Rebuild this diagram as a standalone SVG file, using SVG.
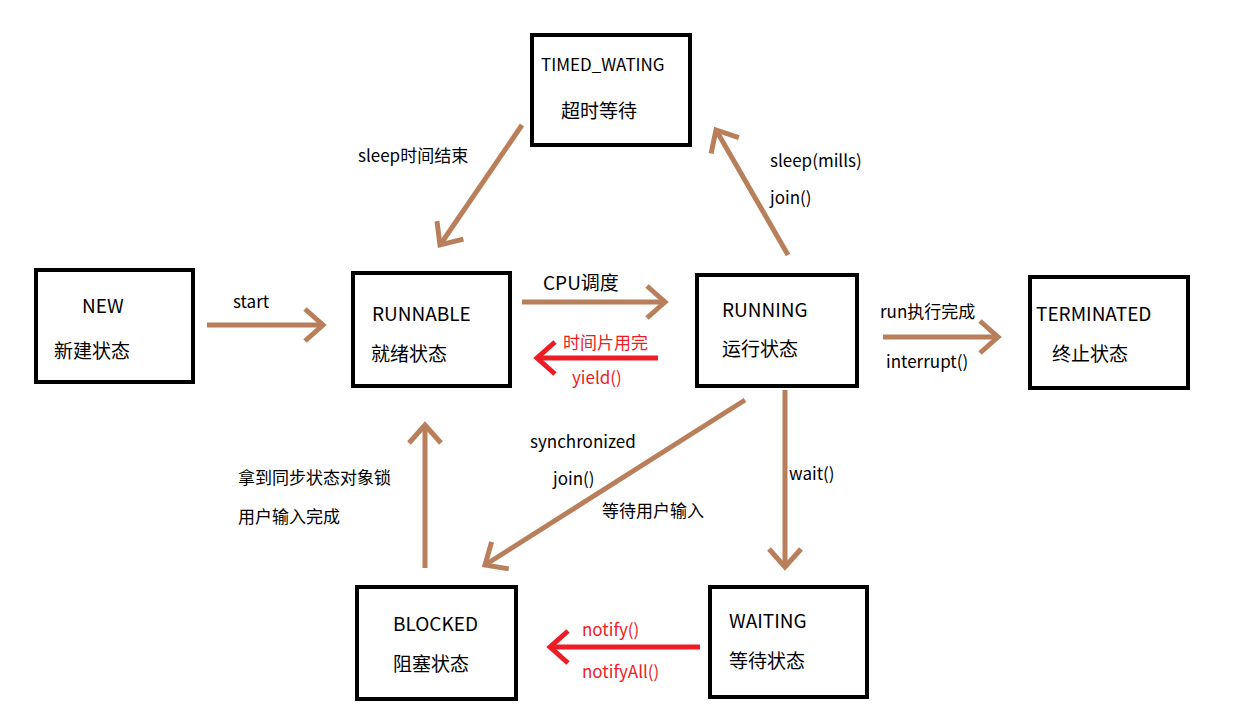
<svg xmlns="http://www.w3.org/2000/svg" width="1247" height="725" viewBox="0 0 1247 725">
<style>
.box{fill:#fff;stroke:#000;stroke-width:4}
text{font-family:"Microsoft YaHei","Noto Sans CJK SC",sans-serif;font-size:19px;fill:#000}
.s{font-size:17px}
.r{fill:#ee1c24}
.b{stroke:#b97f5b;stroke-width:5;fill:none}
.rd{stroke:#ee1c24;stroke-width:5;fill:none}
</style>
<defs>
<marker id="hb" markerUnits="userSpaceOnUse" markerWidth="40" markerHeight="40" refX="22" refY="20" orient="auto"><path d="M4 4 L22 20 L4 36" fill="none" stroke="#b97f5b" stroke-width="5"/></marker>
<marker id="hr" markerUnits="userSpaceOnUse" markerWidth="40" markerHeight="40" refX="22" refY="20" orient="auto"><path d="M4 4 L22 20 L4 36" fill="none" stroke="#ee1c24" stroke-width="5"/></marker>
</defs>
<rect width="1247" height="725" fill="#fff"/>
<g id="connectors">
<line class="b" x1="207" y1="325" x2="323" y2="325" marker-end="url(#hb)"/>
<line class="b" x1="522" y1="302" x2="665" y2="302" marker-end="url(#hb)"/>
<line class="rd" x1="658" y1="358" x2="537" y2="358" marker-end="url(#hr)"/>
<line class="b" x1="788" y1="255" x2="716" y2="130" marker-end="url(#hb)"/>
<line class="b" x1="522" y1="125" x2="440" y2="245" marker-end="url(#hb)"/>
<line class="b" x1="883" y1="337" x2="998" y2="337" marker-end="url(#hb)"/>
<line class="b" x1="785" y1="390" x2="785" y2="567" marker-end="url(#hb)"/>
<line class="b" x1="745" y1="400" x2="485" y2="565" marker-end="url(#hb)"/>
<line class="b" x1="425" y1="568" x2="425" y2="425" marker-end="url(#hb)"/>
<line class="rd" x1="700" y1="647" x2="550" y2="647" marker-end="url(#hr)"/>
<text class="s" x="233" y="308">start</text>
<text x="543" y="290">CPU调度</text>
<text class="s r" x="563" y="349">时间片用完</text>
<text class="s r" x="572" y="384">yield()</text>
<text class="s" x="358" y="162">sleep时间结束</text>
<text class="s" x="770" y="167">sleep(mills)</text>
<text class="s" x="770" y="204">join()</text>
<text class="s" x="880" y="318">run执行完成</text>
<text class="s" x="886" y="368">interrupt()</text>
<text class="s" x="530" y="448">synchronized</text>
<text class="s" x="553" y="485">join()</text>
<text class="s" x="602" y="517">等待用户输入</text>
<text class="s" x="789" y="480">wait()</text>
<text class="s" x="238" y="484">拿到同步状态对象锁</text>
<text class="s" x="238" y="523">用户输入完成</text>
<text class="s r" x="582" y="636">notify()</text>
<text class="s r" x="582" y="678">notifyAll()</text>
</g>
<g id="timed"><rect class="box" x="532" y="35" width="158" height="110"/><text class="s" x="541" y="71">TIMED_WATING</text><text x="561" y="118">超时等待</text></g>
<g id="new"><rect class="box" x="36" y="270" width="157" height="112"/><text x="82" y="313">NEW</text><text x="54" y="358">新建状态</text></g>
<g id="runnable"><rect class="box" x="353" y="273" width="157" height="113"/><text x="372" y="321">RUNNABLE</text><text x="371" y="361">就绪状态</text></g>
<g id="running"><rect class="box" x="697" y="275" width="160" height="111"/><text x="722" y="317">RUNNING</text><text x="722" y="356">运行状态</text></g>
<g id="terminated"><rect class="box" x="1030" y="277" width="158" height="111"/><text x="1036" y="321">TERMINATED</text><text x="1052" y="361">终止状态</text></g>
<g id="blocked"><rect class="box" x="357" y="587" width="159" height="112"/><text x="393" y="631">BLOCKED</text><text x="393" y="671">阻塞状态</text></g>
<g id="waiting"><rect class="box" x="710" y="587" width="157" height="110"/><text x="729" y="628">WAITING</text><text x="729" y="668">等待状态</text></g>
</svg>
